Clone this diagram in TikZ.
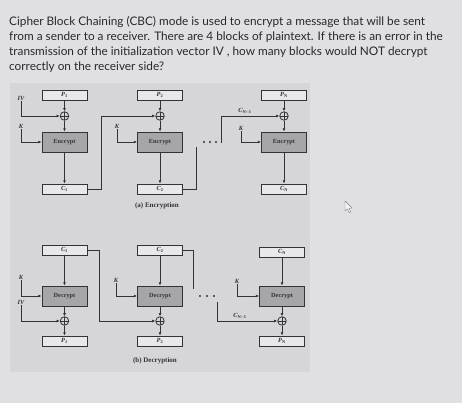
\documentclass[tikz,border=0pt]{standalone}
\usepackage{fontspec}
\setmainfont{Lato}
\newfontfamily\figfont{Liberation Serif}
\usetikzlibrary{arrows.meta,positioning}
\definecolor{pagecolor}{RGB}{224,224,226}
\definecolor{panelcolor}{RGB}{214,214,217}
\definecolor{boxfill}{RGB}{232,232,234}
\definecolor{opfill}{RGB}{166,166,170}
\definecolor{linecolor}{RGB}{50,50,55}
\definecolor{textcolor}{RGB}{40,40,45}
\newcommand{\blk}[2]{{\itshape #1}\textsubscript{#2}}
\tikzset{
figtext/.style={
  font=\figfont\bfseries\fontsize{6.3}{7}\selectfont,
  text=linecolor
},
datablock/.style={
  draw=linecolor,
  line width=0.9pt,
  fill=boxfill,
  minimum width=45pt,
  minimum height=10pt,
  inner sep=0pt,
  figtext
},
cipherblock/.style={
  draw=linecolor,
  line width=0.9pt,
  fill=opfill,
  minimum width=45pt,
  minimum height=20pt,
  inner sep=0pt,
  figtext
},
xorop/.style={
  circle,
  draw=linecolor,
  line width=0.8pt,
  minimum size=8.5pt,
  inner sep=0pt,
  path picture={
    \draw[linecolor,line width=0.7pt]
      (path picture bounding box.north) -- (path picture bounding box.south)
      (path picture bounding box.west) -- (path picture bounding box.east);
  }
},
keylabel/.style={
  figtext,
  inner sep=0.5pt
},
caption/.style={
  font=\figfont\bfseries\fontsize{7}{8}\selectfont,
  text=linecolor
},
wire/.style={
  line width=0.8pt,
  draw=linecolor
},
arrow/.style={
  wire,
  -{Latex[length=3.2pt,width=2.8pt]}
}
}

\begin{document}
\begin{tikzpicture}[x=1pt, y=-1pt]
  \useasboundingbox (0,0) rectangle (462,403);
  \fill[pagecolor] (0,0) rectangle (462,403);
  \fill[panelcolor] (10,83) rectangle (310,372);

  % question
  \node[font=\fontsize{11.8}{15}\selectfont, text=textcolor, align=left,
        anchor=north west, inner sep=0pt] (question) at (9,16)
    {Cipher Block Chaining (CBC) mode is used to encrypt a message that will be sent\\
     from a sender to a receiver. There are 4 blocks of plaintext. If there is an error in the\\
     transmission of the initialization vector IV , how many blocks would NOT decrypt\\
     correctly on the receiver side?};

  % (a) Encryption
  \node[datablock] (p1) at (64.5,95) {\blk{P}{1}};
  \node[xorop] (ex1) at (64.5,116) {};
  \node[cipherblock] (enc1) at (64.5,142) {Encrypt};
  \node[datablock] (c1) at (64.5,189) {\blk{C}{1}};
  \node[keylabel] (eiv) at (21,98) {\itshape IV};
  \node[keylabel] (ek1) at (21,126) {\itshape K};

  \node[datablock] (p2) at (160,95) {\blk{P}{2}};
  \node[xorop] (ex2) at (160,116) {};
  \node[cipherblock] (enc2) at (160,142) {Encrypt};
  \node[datablock] (c2) at (160,189) {\blk{C}{2}};
  \node[keylabel] (ek2) at (117,126) {\itshape K};

  \node[datablock] (pn) at (284,95) {\blk{P}{N}};
  \node[xorop] (exn) at (284,116) {};
  \node[cipherblock] (encn) at (284,142) {Encrypt};
  \node[datablock] (cn) at (284,189) {\blk{C}{N}};
  \node[keylabel] (ekn) at (241,128) {\itshape K};
  \node[keylabel] (ecprev) at (245,110.5) {\blk{C}{N--1}};

  \foreach \col in {1,2,n} {
    \draw[arrow] (p\col) -- (ex\col);
    \draw[arrow] (ex\col) -- (enc\col);
    \draw[arrow] (enc\col) -- (c\col);
    \draw[arrow] (ek\col.south) |- (enc\col.west);
  }
  \draw[arrow] (eiv.south) |- (ex1.west);
  \draw[arrow] (c1.east) -- ++(14,0) |- (ex2.west);
  \coordinate (efree2) at (196,147);
  \coordinate (efreen) at (221,143);
  \draw[wire] (c2.east) -| (efree2);
  \draw[arrow] (efreen) |- (exn.west);
  \foreach \dx in {204,210,216}
    \fill[linecolor] (\dx,142) circle (1.1pt);
  \node[caption] (capa) at (157,206) {(a) Encryption};

  % (b) Decryption
  \node[datablock] (dc1) at (64.5,250) {\blk{C}{1}};
  \node[cipherblock] (dec1) at (64.5,296) {Decrypt};
  \node[xorop] (dx1) at (64.5,321) {};
  \node[datablock] (dp1) at (64.5,341) {\blk{P}{1}};
  \node[keylabel] (dk1) at (21,277) {\itshape K};
  \node[keylabel] (div) at (21,302) {\itshape IV};

  \node[datablock] (dc2) at (160,250) {\blk{C}{2}};
  \node[cipherblock] (dec2) at (160,296) {Decrypt};
  \node[xorop] (dx2) at (160,321) {};
  \node[datablock] (dp2) at (160,341) {\blk{P}{2}};
  \node[keylabel] (dk2) at (116,280) {\itshape K};

  \node[datablock] (dcn) at (282,252) {\blk{C}{N}};
  \node[cipherblock] (decn) at (282,296) {Decrypt};
  \node[xorop] (dxn) at (282,321) {};
  \node[datablock] (dpn) at (282,341) {\blk{P}{N}};
  \node[keylabel] (dkn) at (237,281) {\itshape K};
  \node[keylabel] (dcprev) at (240,316) {\blk{C}{N--1}};

  \foreach \col in {1,2,n} {
    \draw[arrow] (dc\col) -- (dec\col);
    \draw[arrow] (dec\col) -- (dx\col);
    \draw[arrow] (dx\col) -- (dp\col);
    \draw[arrow] (dk\col.south) |- (dec\col.west);
  }
  \draw[arrow] (div.south) |- (dx1.west);
  \draw[arrow] (dc1.east) -- ++(12,0) |- (dx2.west);
  \coordinate (dfree2) at (193,289);
  \coordinate (dfreen) at (217,302);
  \draw[wire] (dc2.east) -| (dfree2);
  \draw[arrow] (dfreen) |- (dxn.west);
  \foreach \dx in {200,207,214}
    \fill[linecolor] (\dx,296) circle (1.1pt);
  \node[caption] (capb) at (155,361) {(b) Decryption};

  % mouse pointer
  \draw[gray, fill=white!90!gray, line width=0.4pt, line join=round]
    (345,201) -- (345,211) -- (347.4,208.8) -- (349.2,212.6) -- (350.8,211.9)
    -- (349,208.2) -- (352.2,208.2) -- cycle;
\end{tikzpicture}
\end{document}
